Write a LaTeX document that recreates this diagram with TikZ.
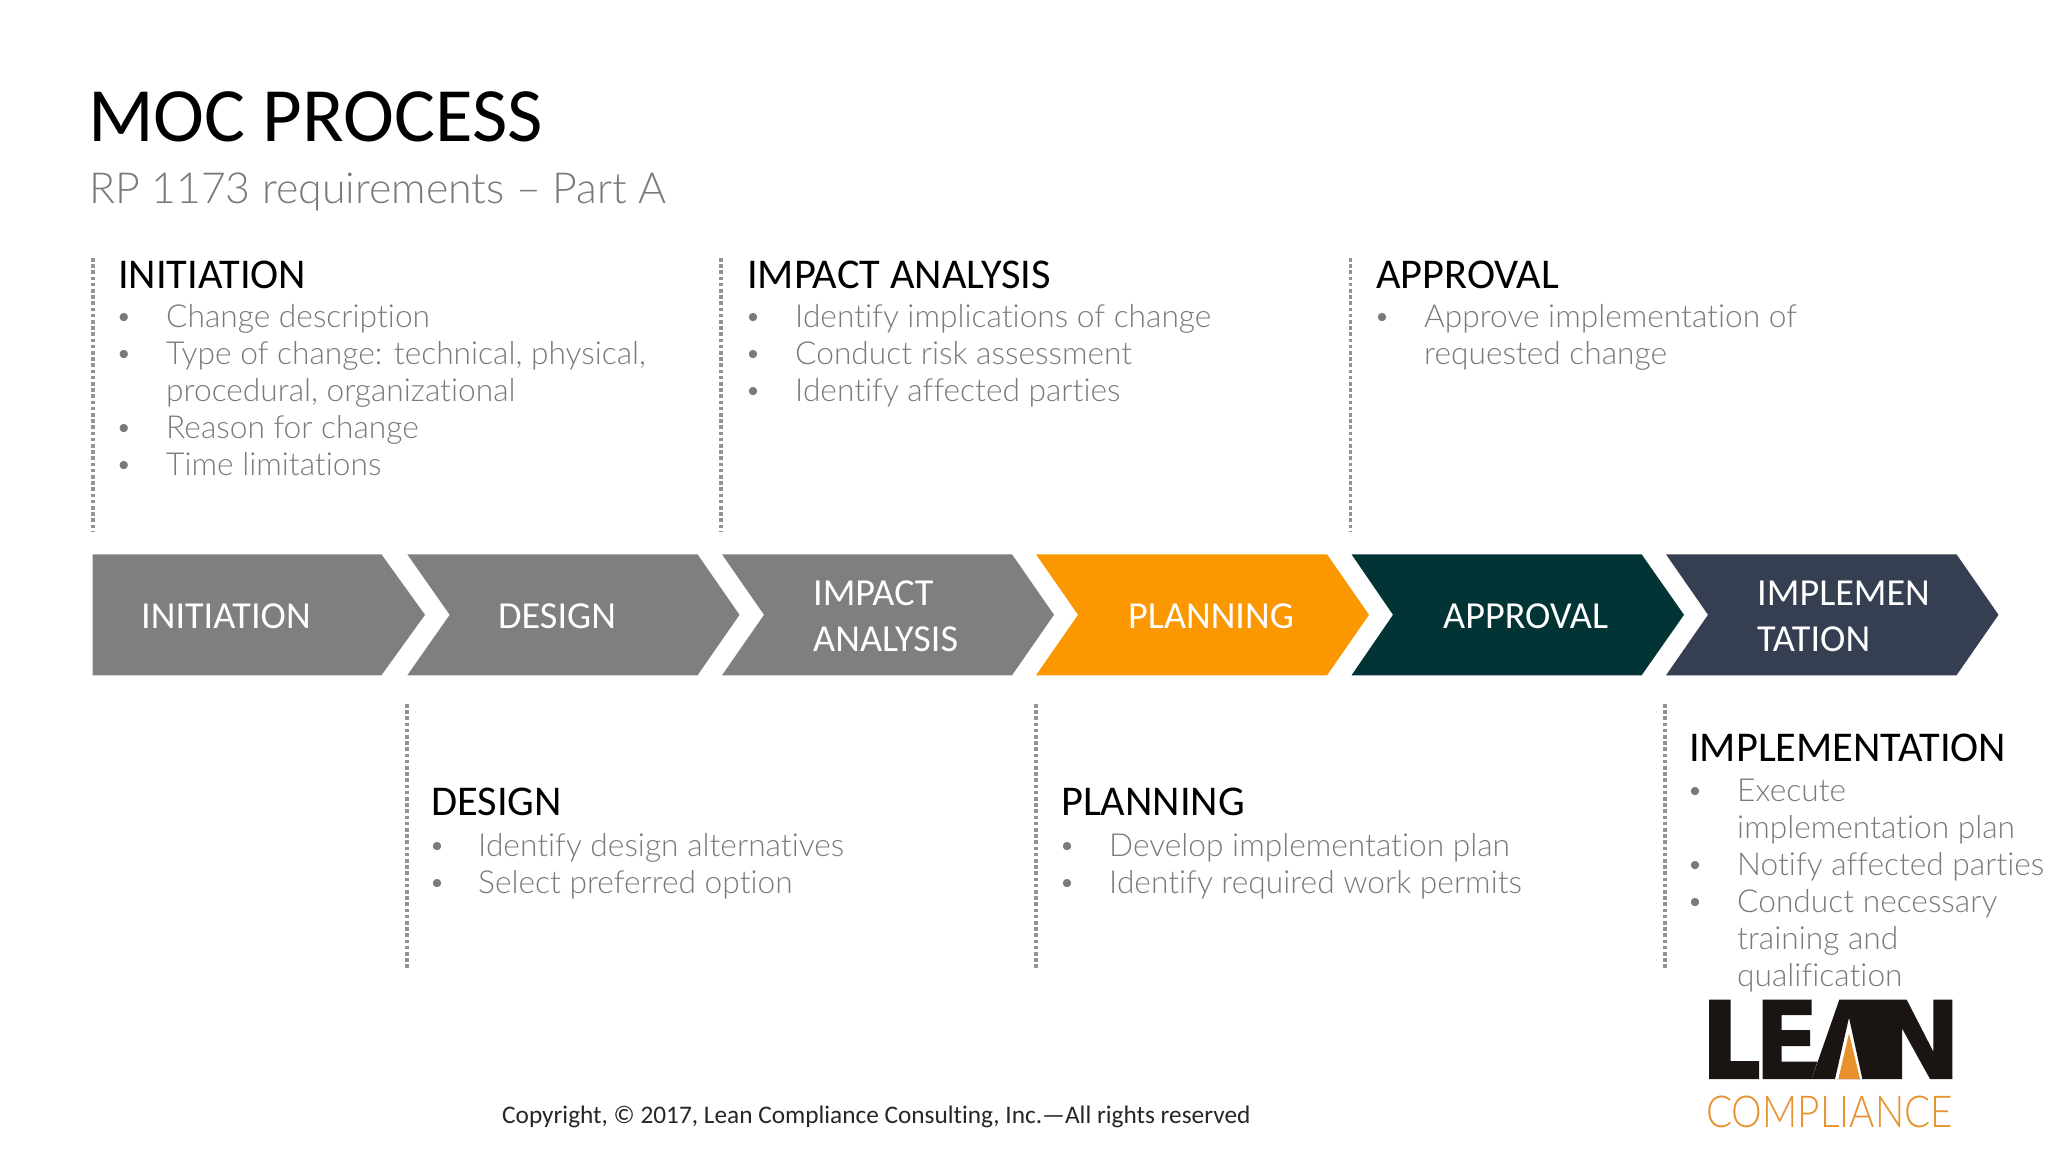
\documentclass[tikz,border=0pt]{standalone}
\usepackage{fontspec}
\setmainfont{Lato Light}[Ligatures=NoCommon]
\newfontfamily\logofont{Lato Light}[FakeStretch=0.88,Ligatures=NoCommon]
\newfontfamily\bulfont{Liberation Sans}
\newfontfamily\regfont{Carlito}[Ligatures=NoCommon]
\definecolor{chgrey}{HTML}{7F7F7F}
\definecolor{chorange}{HTML}{FB9700}
\definecolor{chteal}{HTML}{023435}
\definecolor{chslate}{HTML}{353F51}
\definecolor{bodygrey}{HTML}{7A7A7A}
\definecolor{subgrey}{HTML}{7A7A7A}
\definecolor{dotgrey}{HTML}{939393}
\definecolor{logoblack}{HTML}{1A1512}
\definecolor{logoorange}{HTML}{E8912D}
\tikzset{
 x=1pt,y=-1pt,
 head/.style={anchor=base west,inner sep=0pt,font=\regfont\fontsize{42.4}{42}\selectfont,text=black},
 body/.style={anchor=base west,inner sep=0pt,font=\fontsize{31.7}{32}\selectfont,text=bodygrey},
 bul/.style={anchor=base,inner sep=0pt,font=\bulfont\fontsize{30}{30}\selectfont,text=bodygrey},
 chlabel/.style={anchor=base west,inner sep=0pt,font=\regfont\fontsize{38.2}{38}\selectfont,text=white},
 dotline/.style={draw=dotgrey,line width=3.6pt,dash pattern=on 3.6pt off 2.6pt},
}
\begin{document}
\begin{tikzpicture}
\useasboundingbox (0,0) rectangle (2048,1152);
\fill[white] (0,0) rectangle (2048,1152);
\node[anchor=base west,inner sep=0pt,font=\regfont\fontsize{76.8}{77}\selectfont] (title) at (88,141) {MOC PROCESS};
\node[anchor=base west,inner sep=0pt,font=\fontsize{42.8}{43}\selectfont,text=subgrey] (sub) at (89,203) {RP 1173 requirements – Part A};
% dotted rules
\foreach \n/\x/\a/\b in {d1/92.7/258/531,d2/721/258/531,d3/1350.5/258/531,d4/407/704/969,d5/1036/704/969,d6/1665/704/969}{
 \coordinate (\n a) at (\x,\a); \coordinate (\n b) at (\x,\b);
 \draw[dotline] (\n a) -- (\n b);
}
% chevrons
\fill[chgrey] (92.6,554.3) -- (381.4,554.3) -- (425,614.8) -- (381.4,675.3) -- (92.6,675.3) -- cycle;
\fill[chgrey] (407.3,554.3) -- (697.5,554.3) -- (739.5,614.8) -- (697.5,675.3) -- (407.3,675.3) -- (449.7,614.8) -- cycle;
\fill[chgrey] (722,554.3) -- (1012,554.3) -- (1054,614.8) -- (1012,675.3) -- (722,675.3) -- (764,614.8) -- cycle;
\fill[chorange] (1036,554.3) -- (1327,554.3) -- (1369,614.8) -- (1327,675.3) -- (1036,675.3) -- (1078,614.8) -- cycle;
\fill[chteal] (1351.5,554.3) -- (1641.6,554.3) -- (1684,614.8) -- (1641.6,675.3) -- (1351.5,675.3) -- (1393,614.8) -- cycle;
\fill[chslate] (1666,554.3) -- (1956.5,554.3) -- (1998.5,614.8) -- (1956.5,675.3) -- (1666,675.3) -- (1708,614.8) -- cycle;
\node[chlabel] (c1) at (141,628) {INITIATION};
\node[chlabel] (c2) at (498,628) {DESIGN};
\node[chlabel] (c3a) at (813,605) {IMPACT};
\node[chlabel] (c3b) at (813,651) {ANALYSIS};
\node[chlabel] (c4) at (1128,628) {PLANNING};
\node[chlabel] (c5) at (1443,628) {APPROVAL};
\node[chlabel] (c6a) at (1757,605) {IMPLEMEN};
\node[chlabel] (c6b) at (1757,651) {TATION};
% initiation
\node[head] (h1) at (118,288) {INITIATION};
\node[bul] (b11) at (124,327) {•}; \node[body] (t11) at (166,327) {Change description};
\node[bul] (b12) at (124,364) {•}; \node[body] (t12) at (166,364) {Type of change: technical, physical,};
\node[body] (t13) at (166,401) {procedural, organizational};
\node[bul] (b14) at (124,438) {•}; \node[body] (t14) at (166,438) {Reason for change};
\node[bul] (b15) at (124,475) {•}; \node[body] (t15) at (166,475) {Time limitations};
% impact
\node[head] (h2) at (747,288) {IMPACT ANALYSIS};
\node[bul] (b21) at (753,327) {•}; \node[body] (t21) at (795,327) {Identify implications of change};
\node[bul] (b22) at (753,364) {•}; \node[body] (t22) at (795,364) {Conduct risk assessment};
\node[bul] (b23) at (753,401) {•}; \node[body] (t23) at (795,401) {Identify affected parties};
% approval
\node[head] (h3) at (1376,288) {APPROVAL};
\node[bul] (b31) at (1382,327) {•}; \node[body] (t31) at (1424,327) {Approve implementation of};
\node[body] (t32) at (1424,364) {requested change};
% design
\node[head] (h4) at (431,815) {DESIGN};
\node[bul] (b41) at (437,856) {•}; \node[body] (t41) at (478,856) {Identify design alternatives};
\node[bul] (b42) at (437,893) {•}; \node[body] (t42) at (478,893) {Select preferred option};
% planning
\node[head] (h5) at (1061,815) {PLANNING};
\node[bul] (b51) at (1067,856) {•}; \node[body] (t51) at (1109,856) {Develop implementation plan};
\node[bul] (b52) at (1067,893) {•}; \node[body] (t52) at (1109,893) {Identify required work permits};
% implementation
\node[head] (h6) at (1689,761) {IMPLEMENTATION};
\node[bul] (b61) at (1695,801) {•}; \node[body] (t61) at (1737,801) {Execute};
\node[body] (t62) at (1737,838) {implementation plan};
\node[bul] (b63) at (1695,875) {•}; \node[body] (t63) at (1737,875) {Notify affected parties};
\node[bul] (b64) at (1695,912) {•}; \node[body] (t64) at (1737,912) {Conduct necessary};
\node[body] (t65) at (1737,949) {training and};
\node[body] (t66) at (1737,986) {qualification};
% copyright
\node[anchor=base west,inner sep=0pt,font=\regfont\fontsize{25.3}{25}\selectfont,text=black!85] (copy) at (502,1123) {Copyright, © 2017, Lean Compliance Consulting, Inc.—All rights reserved};
% logo
\begin{scope}[shift={(1700,990)},x=0.33333pt,y=-0.33333pt]
\fill[logoblack] (27,29) -- (92,29) -- (92,213) -- (177,213) -- (177,267) -- (27,267) -- cycle;
\fill[logoblack] (188,29) -- (335,29) -- (335,75) -- (245,75) -- (245,120) -- (330,120) -- (330,168) -- (245,168) -- (245,215) -- (352,215) -- (335,267) -- (188,267) -- cycle;
\fill[logoblack,even odd rule] (335,267) -- (418,29) -- (620,29) -- (700,185) -- (700,29) -- (757,29) -- (757,267) -- (690,267) -- (606,115) -- (606,267) -- cycle
 (447,83) -- (405,267) -- (487,267) -- cycle;
\fill[logoorange] (447,130) -- (480,267) -- (415,267) -- cycle;
\end{scope}
\node[anchor=base west,inner sep=0pt,font=\logofont\fontsize{44}{44}\selectfont,text=logoorange] (logotxt) at (1706,1127) {COMPLIANCE};
\end{tikzpicture}
\end{document}
